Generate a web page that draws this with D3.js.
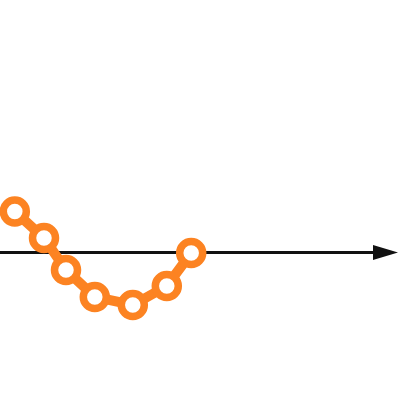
<!DOCTYPE html>
<html>
<head>
<meta charset="utf-8">
<script src="https://cdn.jsdelivr.net/npm/d3@7"></script>
<style>
  html, body { margin: 0; padding: 0; background: #fff; }
  svg { display: block; }
</style>
</head>
<body>
<div id="chart"></div>
<script>
// series: x positions and values
const xValues = [0.37, 1.1, 1.65, 2.37, 3.32, 4.17, 4.78];
const yValues = [0.82, 0.29, -0.35, -0.89, -1.05, -0.67, -0.01];

const w = 400;
const h = 400;
const orange = '#fc8322';

const svg = d3.select('#chart').append('svg')
    .attr('width', w)
    .attr('height', h);

const x = d3.scaleLinear().domain([0, 10]).range([0, w]);
const y = d3.scaleLinear().domain([-2.95, 5.05]).range([h, 0]);

const points = xValues.map((v, i) => ({ x: v, y: yValues[i] }));

// horizontal axis with arrow head
const axisEnd = 373;
svg.append('line')
    .attr('x1', 0)
    .attr('x2', axisEnd + 2)
    .attr('y1', y(0))
    .attr('y2', y(0))
    .style('stroke', '#111')
    .style('stroke-width', 3);

svg.append('path')
    .attr('d', `M${axisEnd},${y(0) - 7.5}L${w - 2},${y(0)}L${axisEnd},${y(0) + 7.5}Z`)
    .style('fill', '#111');

const line = d3.line()
    .x((d) => x(d.x))
    .y((d) => y(d.y));

svg.append('path')
    .datum(points)
    .attr('d', line)
    .style('fill', 'none')
    .style('stroke', orange)
    .style('stroke-width', 10);

svg.selectAll('.pt')
    .data(points)
    .enter()
    .append('circle')
    .attr('class', 'pt')
    .attr('cx', (d) => x(d.x))
    .attr('cy', (d) => y(d.y))
    .attr('r', 11.5)
    .style('fill', '#fff')
    .style('stroke', orange)
    .style('stroke-width', 7.5);
</script>
</body>
</html>
